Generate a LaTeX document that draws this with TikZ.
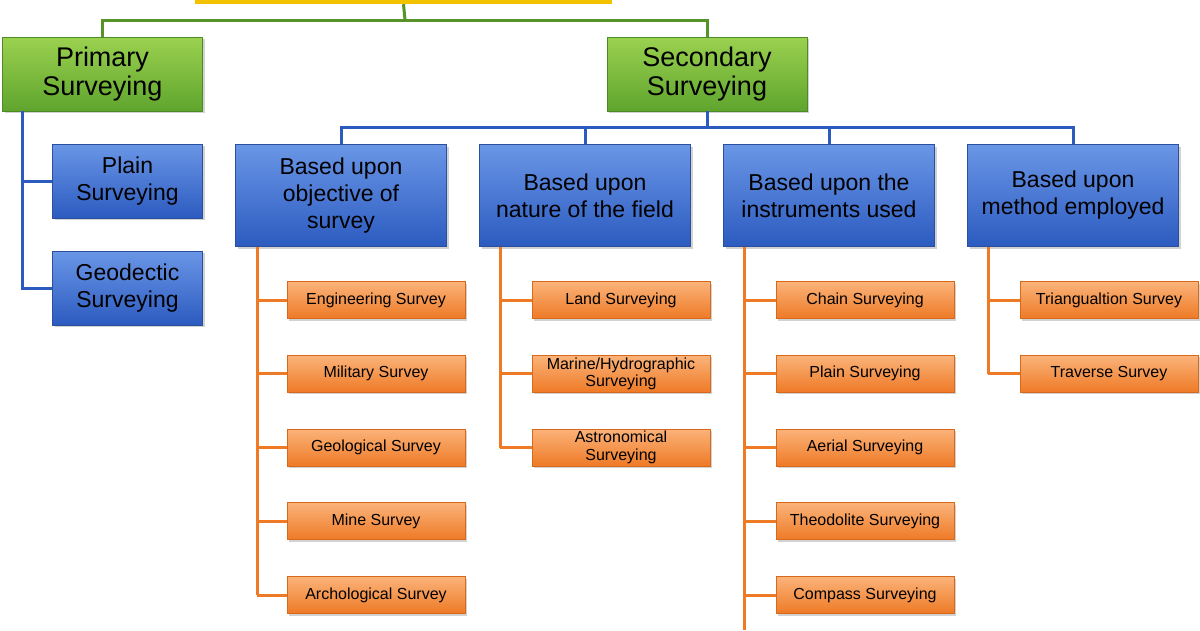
\documentclass[tikz,border=0pt]{standalone}
\usepackage{fontspec}
\setmainfont{Liberation Sans}
\usetikzlibrary{shadows}
\definecolor{gT}{HTML}{9BD14F}\definecolor{gB}{HTML}{5FA52E}\definecolor{gD}{HTML}{4E8A25}
\definecolor{bT}{HTML}{6A96E6}\definecolor{bB}{HTML}{2C5BC0}\definecolor{bD}{HTML}{2A4F9E}
\definecolor{oT}{HTML}{FBB37A}\definecolor{oB}{HTML}{EE7A26}\definecolor{oD}{HTML}{D8681A}
\definecolor{yl}{HTML}{F2C100}
\begin{document}
\begin{tikzpicture}[x=1pt,y=-1pt,
 box/.style={draw,line width=0.8pt,inner sep=0pt,align=center,drop shadow={shadow xshift=2pt,shadow yshift=-2pt,opacity=0.35}},
 gbox/.style={box,draw=gD,top color=gT,bottom color=gB,minimum width=200pt,minimum height=74pt,font=\fontsize{27}{29}\selectfont},
 bbox/.style={box,draw=bD,top color=bT,bottom color=bB,minimum width=150pt,minimum height=74pt,font=\fontsize{23}{27}\selectfont},
 lbox/.style={box,draw=bD,top color=bT,bottom color=bB,minimum width=211pt,minimum height=102pt,font=\fontsize{23}{27}\selectfont},
 obox/.style={box,draw=oD,top color=oT,bottom color=oB,minimum width=178pt,minimum height=37pt,font=\fontsize{16}{17.5}\selectfont},
 gl/.style={draw=gB!90!black,line width=3pt},
 bl/.style={draw=bB,line width=3pt},
 ol/.style={draw=oB,line width=3pt}]
\useasboundingbox (0,0) rectangle (1200,630);
\fill[white] (0,0) rectangle (1200,630);
\node[fill=yl,minimum width=417pt,minimum height=20pt,inner sep=0pt] (root) at (403.5,-6) {};
\coordinate (gj) at (405,20);
\node[gbox] (prim) at (102.5,74) {Primary\\Surveying};
\node[gbox] (sec) at (707,74) {Secondary\\Surveying};
\draw[gl] (root.south) -- (gj);
\draw[gl] (prim.north) |- (gj) -| (sec.north);
\node[bbox] (plain) at (127.5,181) {Plain\\Surveying};
\node[bbox] (geo) at (127.5,288) {Geodectic\\Surveying};
\coordinate (pv) at (22,111);
\draw[bl] (pv) |- (geo.west);
\draw[bl] (22,181) -- (plain.west);
\node[lbox] (c1) at (341,195.5) {Based upon\\objective of\\survey};
\node[lbox] (c2) at (585,195.5) {Based upon\\nature of the field};
\node[lbox] (c3) at (829,195.5) {Based upon the\\instruments used};
\node[lbox] (c4) at (1073,195.5) {Based upon\\method employed};
\coordinate (sj) at (707,127);
\draw[bl] (sec.south) -- (sj);
\draw[bl] (c1.north) |- (sj) -| (c4.north);
\draw[bl] (c2.north) -- (c2.north|-sj);
\draw[bl] (c3.north) -- (c3.north|-sj);
\foreach \c/\x/\vx/\list in {c1/376/257/{Engineering Survey,Military Survey,Geological Survey,Mine Survey,Archological Survey},
 c2/621/500/{Land Surveying,Marine/Hydrographic\\Surveying,Astronomical\\Surveying},
 c3/865/744/{Chain Surveying,Plain Surveying,Aerial Surveying,Theodolite Surveying,Compass Surveying},
 c4/1109/988/{Triangualtion Survey,Traverse Survey}}{
 \foreach \t [count=\i] in \list {
  \pgfmathsetmacro\yy{300+73.75*(\i-1)}
  \node[obox] (\c-\i) at (\x,\yy) {\t};
  \draw[ol] (\vx,\yy) -- (\c-\i.west);
  \coordinate (\c-last) at (\vx,\yy);
 }
 \draw[ol] (\vx,247) -- (\c-last);
}
\draw[ol] (744,590) -- (744,630);
\end{tikzpicture}
\end{document}
